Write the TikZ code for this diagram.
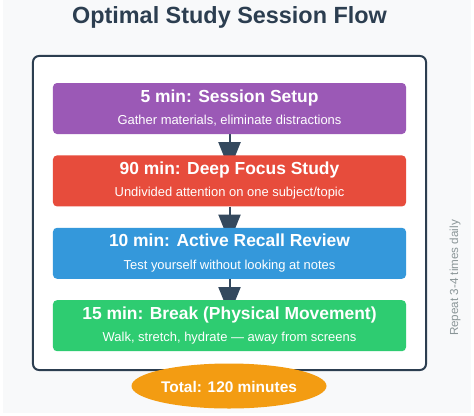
\documentclass[tikz,border=0pt]{standalone}
\usepackage{fontspec}
\setmainfont{Liberation Sans}
\usetikzlibrary{positioning, arrows.meta, shapes.geometric}

\definecolor{pagebg}{HTML}{F8F9FA}
\definecolor{inkdark}{HTML}{2C3E50}
\definecolor{arrowdark}{HTML}{34495E}
\definecolor{setupcol}{HTML}{9B59B6}
\definecolor{focuscol}{HTML}{E74C3C}
\definecolor{recallcol}{HTML}{3498DB}
\definecolor{breakcol}{HTML}{2ECC71}
\definecolor{totalcol}{HTML}{F39C12}
\definecolor{notegray}{HTML}{8A9597}

\pgfdeclarelayer{bg}
\pgfdeclarelayer{back}
\pgfsetlayers{bg,back,main}

\begin{document}
\begin{tikzpicture}[x=1bp, y=1bp, node distance=21bp,
    stepbox/.style={rectangle, rounded corners=4bp, minimum width=353bp,
        minimum height=51bp, inner sep=0pt},
    steptitle/.style={anchor=base, text=white, inner sep=0pt,
        font=\bfseries\fontsize{17.5}{20}\selectfont},
    stepnote/.style={anchor=base, text=white, inner sep=0pt,
        font=\fontsize{13}{15}\selectfont},
    flow/.style={-{Triangle[length=28bp, width=22bp]}, line width=2bp, arrowdark}]

    % ============================================================
    % CANVAS AND TITLE
    % ============================================================
    \useasboundingbox (0,0) rectangle (474,415);
    \begin{pgfonlayer}{bg}
        \fill[pagebg] (3,2) rectangle (471,415);
        \node[draw=inkdark, line width=2bp, fill=white, rounded corners=6bp,
            minimum width=393bp, minimum height=314bp, inner sep=0pt]
            (frame) at (229.5,202) {};
    \end{pgfonlayer}

    \node[anchor=base, text=inkdark, inner sep=0pt,
        font=\bfseries\fontsize{23.5}{26}\selectfont]
        (title) at (229.5,391) {Optimal Study Session Flow};

    % ============================================================
    % SESSION STEPS
    % ============================================================
    \node[stepbox, fill=setupcol] (setup) at (229.5,306.5) {};
    \node[stepbox, fill=focuscol, below=of setup] (focus) {};
    \node[stepbox, fill=recallcol, below=of focus] (recall) {};
    \node[stepbox, fill=breakcol, below=of recall] (pause) {};

    \node[steptitle] (setupT) at ([yshift=6.5bp]setup.center) {5 min: Session Setup};
    \node[stepnote] (setupN) at ([yshift=-16bp]setup.center)
        {Gather materials, eliminate distractions};

    \node[steptitle] (focusT) at ([yshift=6.5bp]focus.center) {90 min: Deep Focus Study};
    \node[stepnote] (focusN) at ([yshift=-16bp]focus.center)
        {Undivided attention on one subject/topic};

    \node[steptitle] (recallT) at ([yshift=6.5bp]recall.center) {10 min: Active Recall Review};
    \node[stepnote] (recallN) at ([yshift=-16bp]recall.center)
        {Test yourself without looking at notes};

    \node[steptitle] (pauseT) at ([yshift=6.5bp]pause.center) {15 min: Break (Physical Movement)};
    \node[stepnote] (pauseN) at ([yshift=-16bp]pause.center)
        {Walk, stretch, hydrate — away from screens};

    % ============================================================
    % FLOW ARROWS (tips tucked under the next step)
    % ============================================================
    \begin{pgfonlayer}{back}
        \draw[flow] (setup.south) -- ([yshift=-15bp]focus.north);
        \draw[flow] (focus.south) -- ([yshift=-15bp]recall.north);
        \draw[flow] (recall.south) -- ([yshift=-15bp]pause.north);
    \end{pgfonlayer}

    % ============================================================
    % TOTAL AND REPEAT NOTE
    % ============================================================
    \node[ellipse, fill=totalcol, minimum width=195bp, minimum height=45bp, inner sep=0pt]
        (total) at (229,29) {};
    \node[anchor=base, text=white, inner sep=0pt,
        font=\bfseries\fontsize{15.5}{18}\selectfont]
        (totalT) at (229,22.3) {Total: 120 minutes};

    \node[rotate=90, text=notegray, inner sep=0pt, font=\fontsize{11.7}{14}\selectfont]
        (repeat) at (455,137) {Repeat 3-4 times daily};

\end{tikzpicture}
\end{document}
